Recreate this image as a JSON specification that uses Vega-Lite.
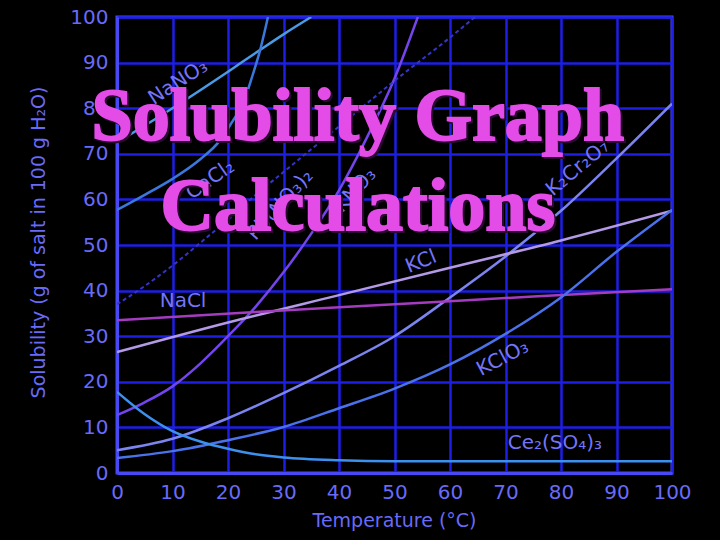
{
  "$schema": "https://vega.github.io/schema/vega-lite/v6.json",
  "width": 555,
  "height": 456,
  "autosize": {"type": "none"},
  "padding": {"left": 117, "top": 17, "right": 48, "bottom": 67},
  "background": "#000000",
  "config": {
    "view": {"stroke": "#4848f4", "strokeWidth": 3},
    "font": "DejaVu Sans"
  },
  "datasets": {
    "curves": [
      {"salt": "NaNO3", "T": 0, "S": 72.5}, {"salt": "NaNO3", "T": 10, "S": 80}, {"salt": "NaNO3", "T": 20, "S": 88},
      {"salt": "NaNO3", "T": 25.8, "S": 92.8}, {"salt": "NaNO3", "T": 30, "S": 96.2}, {"salt": "NaNO3", "T": 35, "S": 100},
      {"salt": "CaCl2", "T": 0, "S": 57.7}, {"salt": "CaCl2", "T": 5, "S": 61}, {"salt": "CaCl2", "T": 10, "S": 64.5},
      {"salt": "CaCl2", "T": 15, "S": 68.8}, {"salt": "CaCl2", "T": 18.6, "S": 73}, {"salt": "CaCl2", "T": 21, "S": 77.5},
      {"salt": "CaCl2", "T": 22.7, "S": 81}, {"salt": "CaCl2", "T": 24.5, "S": 87.5}, {"salt": "CaCl2", "T": 25.8, "S": 92.8},
      {"salt": "CaCl2", "T": 27.2, "S": 100},
      {"salt": "KNO3", "T": 0, "S": 12.7}, {"salt": "KNO3", "T": 5, "S": 15.5}, {"salt": "KNO3", "T": 10, "S": 19},
      {"salt": "KNO3", "T": 15, "S": 24}, {"salt": "KNO3", "T": 20, "S": 30}, {"salt": "KNO3", "T": 25, "S": 36.5},
      {"salt": "KNO3", "T": 30, "S": 44}, {"salt": "KNO3", "T": 35, "S": 52.5}, {"salt": "KNO3", "T": 40, "S": 62},
      {"salt": "KNO3", "T": 45, "S": 73.5}, {"salt": "KNO3", "T": 50, "S": 86.5}, {"salt": "KNO3", "T": 54.2, "S": 100},
      {"salt": "K2Cr2O7", "T": 0, "S": 5}, {"salt": "K2Cr2O7", "T": 10, "S": 7.5}, {"salt": "K2Cr2O7", "T": 20, "S": 12},
      {"salt": "K2Cr2O7", "T": 30, "S": 17.5}, {"salt": "K2Cr2O7", "T": 40, "S": 23.5}, {"salt": "K2Cr2O7", "T": 50, "S": 30},
      {"salt": "K2Cr2O7", "T": 60, "S": 38.5}, {"salt": "K2Cr2O7", "T": 70, "S": 47.5}, {"salt": "K2Cr2O7", "T": 80, "S": 57.5},
      {"salt": "K2Cr2O7", "T": 90, "S": 69}, {"salt": "K2Cr2O7", "T": 100, "S": 81},
      {"salt": "KCl", "T": 0, "S": 26.5}, {"salt": "KCl", "T": 20, "S": 33}, {"salt": "KCl", "T": 40, "S": 39},
      {"salt": "KCl", "T": 60, "S": 45}, {"salt": "KCl", "T": 80, "S": 51}, {"salt": "KCl", "T": 100, "S": 57.5},
      {"salt": "NaCl", "T": 0, "S": 33.5}, {"salt": "NaCl", "T": 25, "S": 35.3}, {"salt": "NaCl", "T": 50, "S": 37},
      {"salt": "NaCl", "T": 75, "S": 38.7}, {"salt": "NaCl", "T": 100, "S": 40.3},
      {"salt": "KClO3", "T": 0, "S": 3.3}, {"salt": "KClO3", "T": 10, "S": 4.8}, {"salt": "KClO3", "T": 20, "S": 7.2},
      {"salt": "KClO3", "T": 30, "S": 10.1}, {"salt": "KClO3", "T": 40, "S": 14.2}, {"salt": "KClO3", "T": 50, "S": 18.5},
      {"salt": "KClO3", "T": 60, "S": 23.8}, {"salt": "KClO3", "T": 70, "S": 30.5}, {"salt": "KClO3", "T": 80, "S": 38.5},
      {"salt": "KClO3", "T": 90, "S": 48.5}, {"salt": "KClO3", "T": 100, "S": 57.7},
      {"salt": "Ce2(SO4)3", "T": 0, "S": 17.8}, {"salt": "Ce2(SO4)3", "T": 5, "S": 12.9}, {"salt": "Ce2(SO4)3", "T": 10, "S": 9.2},
      {"salt": "Ce2(SO4)3", "T": 15, "S": 6.9}, {"salt": "Ce2(SO4)3", "T": 20, "S": 5.3}, {"salt": "Ce2(SO4)3", "T": 25, "S": 4.1},
      {"salt": "Ce2(SO4)3", "T": 30, "S": 3.4}, {"salt": "Ce2(SO4)3", "T": 40, "S": 2.8}, {"salt": "Ce2(SO4)3", "T": 50, "S": 2.6},
      {"salt": "Ce2(SO4)3", "T": 70, "S": 2.6}, {"salt": "Ce2(SO4)3", "T": 100, "S": 2.6}
    ],
    "lead": [
      {"salt": "Pb(NO3)2", "T": 0, "S": 37}, {"salt": "Pb(NO3)2", "T": 5, "S": 41}, {"salt": "Pb(NO3)2", "T": 10, "S": 45.5},
      {"salt": "Pb(NO3)2", "T": 17, "S": 52.5}, {"salt": "Pb(NO3)2", "T": 20, "S": 55.5}, {"salt": "Pb(NO3)2", "T": 25, "S": 61},
      {"salt": "Pb(NO3)2", "T": 30, "S": 66}, {"salt": "Pb(NO3)2", "T": 35, "S": 71}, {"salt": "Pb(NO3)2", "T": 40, "S": 76},
      {"salt": "Pb(NO3)2", "T": 50, "S": 86}, {"salt": "Pb(NO3)2", "T": 60, "S": 95.5}, {"salt": "Pb(NO3)2", "T": 64.5, "S": 100}
    ],
    "labels": [
      {"name": "NaNO₃", "T": 11, "S": 85.7},
      {"name": "CaCl₂", "T": 16.8, "S": 64.3},
      {"name": "Pb(NO₃)₂", "T": 29.4, "S": 58.8},
      {"name": "KNO₃", "T": 42.9, "S": 62},
      {"name": "KCl", "T": 54.8, "S": 46.3},
      {"name": "NaCl", "T": 11.9, "S": 37.7},
      {"name": "K₂Cr₂O₇", "T": 83, "S": 66.9},
      {"name": "KClO₃", "T": 69.5, "S": 25.2},
      {"name": "Ce₂(SO₄)₃", "T": 78.9, "S": 6.6}
    ],
    "heading": [
      {"line": "Solubility Graph", "T": 43.4, "S": 73},
      {"line": "Calculations", "T": 43.4, "S": 53.3}
    ]
  },
  "layer": [
    {
      "data": {"name": "curves"},
      "mark": {"type": "line", "strokeWidth": 2.5, "interpolate": "monotone", "clip": true},
      "encoding": {
        "x": {
          "field": "T", "type": "quantitative",
          "scale": {"domain": [0, 100], "nice": false},
          "axis": {
            "title": "Temperature (°C)", "values": [0, 10, 20, 30, 40, 50, 60, 70, 80, 90, 100],
            "grid": true, "gridColor": "#1e1ee6", "gridWidth": 2.5, "gridOpacity": 1,
            "domainColor": "#4848f4", "domainWidth": 3, "ticks": false, "labelFlush": false,
            "labelColor": "#6a6af8", "labelFontSize": 20, "labelPadding": 9, "labelFont": "DejaVu Sans",
            "titleColor": "#6a6af8", "titleFontSize": 19, "titleFontWeight": "normal", "titleFont": "DejaVu Sans",
            "titleX": 277, "titleY": 47, "titleBaseline": "middle", "titleAlign": "center"
          }
        },
        "y": {
          "field": "S", "type": "quantitative",
          "scale": {"domain": [0, 100], "nice": false},
          "axis": {
            "title": "Solubility (g of salt in 100 g H₂O)", "values": [0, 10, 20, 30, 40, 50, 60, 70, 80, 90, 100],
            "grid": true, "gridColor": "#1e1ee6", "gridWidth": 2.5, "gridOpacity": 1,
            "domainColor": "#4848f4", "domainWidth": 3, "ticks": false, "labelFlush": false,
            "labelColor": "#6a6af8", "labelFontSize": 20, "labelPadding": 9, "labelFont": "DejaVu Sans",
            "titleColor": "#6a6af8", "titleFontSize": 19, "titleFontWeight": "normal", "titleFont": "DejaVu Sans",
            "titleX": -79, "titleY": 225, "titleAngle": -90, "titleBaseline": "middle", "titleAlign": "center"
          }
        },
        "detail": {"field": "salt"},
        "color": {
          "field": "salt", "type": "nominal", "legend": null,
          "scale": {
            "domain": ["NaNO3", "CaCl2", "KNO3", "K2Cr2O7", "KCl", "NaCl", "KClO3", "Ce2(SO4)3"],
            "range": ["#4a9ae4", "#3a78dc", "#7444ec", "#7c84f0", "#b49ae6", "#a43cc0", "#4a72ea", "#3c90ee"]
          }
        }
      }
    },
    {
      "data": {"name": "lead"},
      "mark": {"type": "line", "strokeWidth": 2, "strokeDash": [4, 3], "color": "#3434c8", "interpolate": "monotone", "clip": true},
      "encoding": {"x": {"field": "T", "type": "quantitative"}, "y": {"field": "S", "type": "quantitative"}}
    },
    {
      "data": {"name": "labels"},
      "transform": [{"filter": "datum.name === 'NaCl' || datum.name === 'Ce₂(SO₄)₃'"}],
      "mark": {"type": "text", "color": "#7474fa", "fontSize": 20, "font": "DejaVu Sans", "align": "center", "baseline": "middle"},
      "encoding": {"x": {"field": "T", "type": "quantitative"}, "y": {"field": "S", "type": "quantitative"}, "text": {"field": "name"}}
    },
    {
      "data": {"name": "labels"},
      "transform": [{"filter": "datum.name === 'NaNO₃'"}],
      "mark": {"type": "text", "color": "#7474fa", "fontSize": 20, "font": "DejaVu Sans", "angle": 327, "align": "center", "baseline": "middle"},
      "encoding": {"x": {"field": "T", "type": "quantitative"}, "y": {"field": "S", "type": "quantitative"}, "text": {"field": "name"}}
    },
    {
      "data": {"name": "labels"},
      "transform": [{"filter": "datum.name === 'CaCl₂'"}],
      "mark": {"type": "text", "color": "#7474fa", "fontSize": 20, "font": "DejaVu Sans", "angle": 325, "align": "center", "baseline": "middle"},
      "encoding": {"x": {"field": "T", "type": "quantitative"}, "y": {"field": "S", "type": "quantitative"}, "text": {"field": "name"}}
    },
    {
      "data": {"name": "labels"},
      "transform": [{"filter": "datum.name === 'Pb(NO₃)₂' || datum.name === 'KNO₃'"}],
      "mark": {"type": "text", "color": "#7474fa", "fontSize": 20, "font": "DejaVu Sans", "angle": 312, "align": "center", "baseline": "middle"},
      "encoding": {"x": {"field": "T", "type": "quantitative"}, "y": {"field": "S", "type": "quantitative"}, "text": {"field": "name"}}
    },
    {
      "data": {"name": "labels"},
      "transform": [{"filter": "datum.name === 'KCl'"}],
      "mark": {"type": "text", "color": "#7474fa", "fontSize": 20, "font": "DejaVu Sans", "angle": 338, "align": "center", "baseline": "middle"},
      "encoding": {"x": {"field": "T", "type": "quantitative"}, "y": {"field": "S", "type": "quantitative"}, "text": {"field": "name"}}
    },
    {
      "data": {"name": "labels"},
      "transform": [{"filter": "datum.name === 'K₂Cr₂O₇'"}],
      "mark": {"type": "text", "color": "#7474fa", "fontSize": 20, "font": "DejaVu Sans", "angle": 320, "align": "center", "baseline": "middle"},
      "encoding": {"x": {"field": "T", "type": "quantitative"}, "y": {"field": "S", "type": "quantitative"}, "text": {"field": "name"}}
    },
    {
      "data": {"name": "labels"},
      "transform": [{"filter": "datum.name === 'KClO₃'"}],
      "mark": {"type": "text", "color": "#7474fa", "fontSize": 20, "font": "DejaVu Sans", "angle": 332, "align": "center", "baseline": "middle"},
      "encoding": {"x": {"field": "T", "type": "quantitative"}, "y": {"field": "S", "type": "quantitative"}, "text": {"field": "name"}}
    },
    {
      "data": {"name": "heading"},
      "mark": {"type": "text", "color": "#2a0a2e", "stroke": "#2a0a2e", "strokeWidth": 2, "font": "Liberation Serif", "fontWeight": "bold", "fontSize": 74, "align": "center", "baseline": "alphabetic", "dx": 2, "dy": 2},
      "encoding": {"x": {"field": "T", "type": "quantitative"}, "y": {"field": "S", "type": "quantitative"}, "text": {"field": "line"}}
    },
    {
      "data": {"name": "heading"},
      "mark": {"type": "text", "color": "#e44ce8", "stroke": "#e44ce8", "strokeWidth": 2, "font": "Liberation Serif", "fontWeight": "bold", "fontSize": 74, "align": "center", "baseline": "alphabetic"},
      "encoding": {"x": {"field": "T", "type": "quantitative"}, "y": {"field": "S", "type": "quantitative"}, "text": {"field": "line"}}
    }
  ]
}
